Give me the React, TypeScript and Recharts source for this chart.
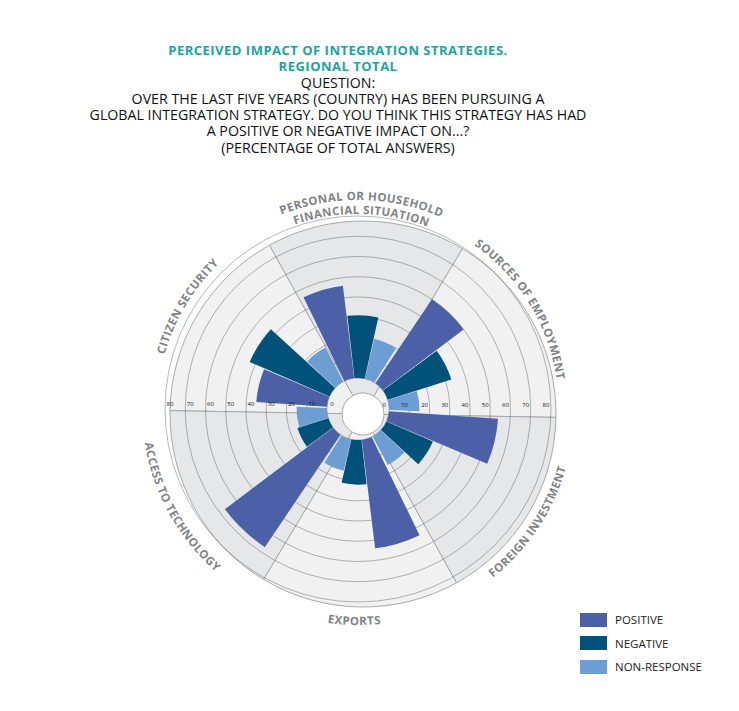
import {
  Cell,
  Legend,
  Pie,
  PieChart,
  PolarAngleAxis,
  PolarGrid,
  PolarRadiusAxis,
  RadialBar,
  RadialBarChart,
} from "recharts";

// categories go counter-clockwise, starting just above the right-hand horizontal
const categories = [
  "SOURCES OF EMPLOYMENT",
  "PERSONAL OR HOUSEHOLD FINANCIAL SITUATION",
  "CITIZEN SECURITY",
  "ACCESS TO TECHNOLOGY",
  "EXPORTS",
  "FOREIGN INVESTMENT",
];
const categoryLines = [
  ["SOURCES OF EMPLOYMENT"],
  ["PERSONAL OR HOUSEHOLD", "FINANCIAL SITUATION"],
  ["CITIZEN SECURITY"],
  ["ACCESS TO TECHNOLOGY"],
  ["EXPORTS"],
  ["FOREIGN INVESTMENT"],
];
const positive = [50, 46, 35, 67, 54, 54];
const negative = [33, 31, 43, 16, 22, 25];
const nonResponse = [15, 20, 19, 15, 16, 16];
const radiusTicks = [0, 10, 20, 30, 40, 50, 60, 70, 80];

const seriesNames = ["POSITIVE", "NEGATIVE", "NON-RESPONSE"];
const seriesColors = ["#4c60a8", "#00527a", "#6c9ed4"];
const sectorShades = ["#f1f1f2", "#e6e7e8", "#f1f1f2", "#e6e7e8", "#f1f1f2", "#e6e7e8"];

const titleLines = ["PERCEIVED IMPACT OF INTEGRATION STRATEGIES.", "REGIONAL TOTAL"];
const questionLines = [
  "QUESTION:",
  "OVER THE LAST FIVE YEARS (COUNTRY) HAS BEEN PURSUING A",
  "GLOBAL INTEGRATION STRATEGY. DO YOU THINK THIS STRATEGY HAS HAD",
  "A POSITIVE OR NEGATIVE IMPACT ON...?",
  "(PERCENTAGE OF TOTAL ANSWERS)",
];

const data = categories.map((category, i) => ({
  category,
  positive: positive[i],
  negative: negative[i],
  nonResponse: nonResponse[i],
}));
const sectors = categories.map((category) => ({ category, share: 1 }));

const W = 739;
const H = 700;
const CX = 358;
const CY = 409;
const HOLE = 21;
const OUTER = 193;
const FONT = "'Open Sans', 'DejaVu Sans', sans-serif";

// small nudges so the curved names sit where the print has them
const labelShift = [2.5, 0, 0, 0, 0, -2.5];

function arc(r: number, a0: number, a1: number, sweep: number) {
  const rad = Math.PI / 180;
  const x0 = CX + r * Math.cos(a0 * rad);
  const y0 = CY - r * Math.sin(a0 * rad);
  const x1 = CX + r * Math.cos(a1 * rad);
  const y1 = CY - r * Math.sin(a1 * rad);
  return `M ${x0} ${y0} A ${r} ${r} 0 0 ${sweep} ${x1} ${y1}`;
}

function CategoryLabel(props: any) {
  const { index } = props;
  const mid = props.midAngle + labelShift[index];
  const upper = Math.sin((mid * Math.PI) / 180) > 0;
  const lines = categoryLines[index];
  return (
    <g>
      {lines.map((line, j) => {
        const id = `cat-${index}-${j}`;
        let r: number;
        if (upper) r = lines.length > 1 ? (j === 0 ? 209 : 195) : 201;
        else r = 216;
        const d = upper ? arc(r, mid + 60, mid - 60, 1) : arc(r, mid - 60, mid + 60, 0);
        return (
          <g key={id}>
            <path id={id} d={d} fill="none" stroke="none" />
            <text fontFamily={FONT} fontSize={11.5} fontWeight={700} letterSpacing={0.4} fill="#808285">
              <textPath href={`#${id}`} startOffset="50%" textAnchor="middle">
                {line}
              </textPath>
            </text>
          </g>
        );
      })}
    </g>
  );
}

// one radius axis; its labels are repeated on the left-hand horizontal
function RadiusTick(props: any) {
  const { x, y, payload } = props;
  const common = { fontSize: 6, fontFamily: FONT, textAnchor: "middle" as const, fill: "#111" };
  return (
    <g>
      <text x={x - 5} y={y - 2} {...common}>
        {payload.value}
      </text>
      <text x={2 * CX - x + 5} y={y - 3} {...common}>
        {payload.value}
      </text>
    </g>
  );
}

function LegendBox() {
  return (
    <div style={{ fontFamily: FONT }}>
      {seriesNames.map((name, i) => (
        <div key={name} style={{ display: "flex", alignItems: "center", height: 23.5 }}>
          <span style={{ width: 27, height: 14, background: seriesColors[i], marginRight: 8 }} />
          <span style={{ fontSize: 11.5, color: "#222" }}>{name}</span>
        </div>
      ))}
    </div>
  );
}

export default function App() {
  return (
    <div style={{ position: "relative", width: W, height: H, margin: -8, background: "#fff" }}>
      <div
        style={{
          position: "absolute",
          top: 42,
          left: 0,
          width: 676,
          textAlign: "center",
          fontFamily: FONT,
          lineHeight: "16.3px",
        }}
      >
        {titleLines.map((t) => (
          <div key={t} style={{ color: "#1ea39c", fontWeight: 700, fontSize: 13, letterSpacing: 0.5 }}>
            {t}
          </div>
        ))}
        {questionLines.map((t) => (
          <div key={t} style={{ color: "#111", fontSize: 14.2 }}>
            {t}
          </div>
        ))}
      </div>

      <div style={{ position: "absolute", top: 0, left: 0 }}>
        <PieChart width={W} height={H}>
          <Pie
            data={sectors}
            dataKey="share"
            nameKey="category"
            cx={CX}
            cy={CY}
            innerRadius={HOLE}
            outerRadius={OUTER}
            startAngle={-1}
            endAngle={359}
            stroke="#a7a9ac"
            strokeWidth={1}
            label={CategoryLabel}
            labelLine={false}
            isAnimationActive={false}
          >
            {sectors.map((s, i) => (
              <Cell key={s.category} fill={sectorShades[i]} />
            ))}
          </Pie>
        </PieChart>
      </div>

      <div style={{ position: "absolute", top: 0, left: 0 }}>
        <RadialBarChart
          width={W}
          height={H}
          data={data}
          cx={CX}
          cy={CY}
          innerRadius={HOLE}
          outerRadius={OUTER}
          startAngle={57.5}
          endAngle={417.5}
          layout="centric"
          barCategoryGap={0.5}
          barGap={0.5}
          baseValue="dataMin"
        >
          <PolarAngleAxis type="category" dataKey="category" tick={false} axisLine={false} tickLine={false} />
          <PolarRadiusAxis
            type="number"
            domain={[-5, 80]}
            ticks={radiusTicks}
            angle={0}
            axisLine={false}
            tickLine={false}
            tick={<RadiusTick />}
          />
          <RadialBar dataKey="nonResponse" name={seriesNames[2]} fill={seriesColors[2]} isAnimationActive={false} />
          <RadialBar dataKey="negative" name={seriesNames[1]} fill={seriesColors[1]} isAnimationActive={false} />
          <RadialBar dataKey="positive" name={seriesNames[0]} fill={seriesColors[0]} isAnimationActive={false} />
          <PolarGrid gridType="circle" radialLines={false} stroke="rgba(40,40,40,0.33)" />
          <Legend
            content={<LegendBox />}
            wrapperStyle={{ position: "absolute", left: 580, top: 608, width: 150 }}
          />
        </RadialBarChart>
      </div>
    </div>
  );
}
